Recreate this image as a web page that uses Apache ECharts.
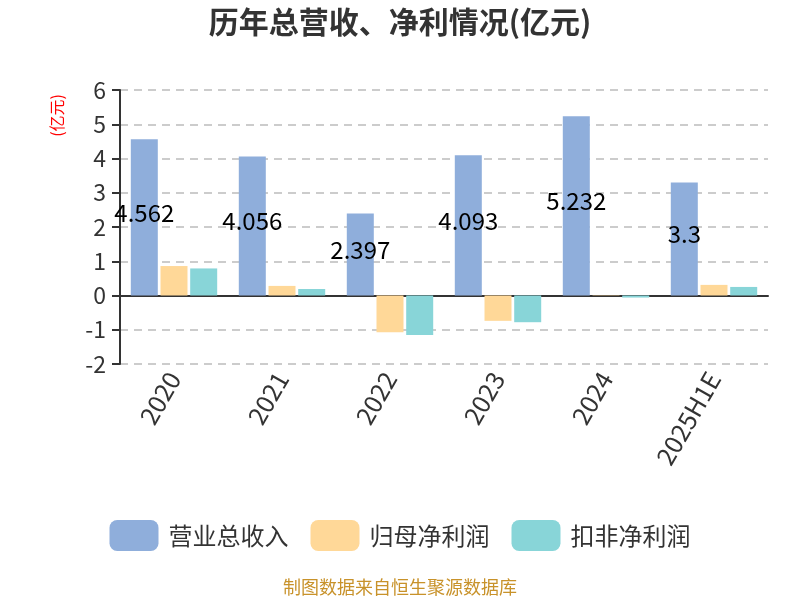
<!DOCTYPE html>
<html><head><meta charset="utf-8">
<script src="https://cdn.jsdelivr.net/npm/echarts@6/dist/echarts.min.js"></script>
<style>html,body{margin:0;padding:0;background:#fff}#c{width:800px;height:600px}</style>
</head><body><div id="c"></div>
<script>
var categories = ['2020','2021','2022','2023','2024','2025H1E'];
var revenue = [4.562, 4.056, 2.397, 4.093, 5.232, 3.3];
var netProfit = [0.86, 0.28, -1.07, -0.74, -0.01, 0.31];
var deductedProfit = [0.79, 0.19, -1.15, -0.78, -0.06, 0.25];
var seriesNames = ['营业总收入','归母净利润','扣非净利润'];
var yTicks = {min: -2, max: 6, interval: 1};

var chart = echarts.init(document.getElementById('c'));
var font = '"Noto Sans CJK SC", "Noto Sans", sans-serif';
chart.setOption({
  animation: false,
  textStyle: {fontFamily: font},
  title: {text: '历年总营收、净利情况(亿元)', left: 'center', top: 2,
    textStyle: {fontSize: 30, fontWeight: 'bold', color: '#333', fontFamily: font}},
  color: ['#8FAEDB', '#FFD898', '#88D5D8'],
  grid: {left: 120, right: 32, top: 90, bottom: 236},
  legend: {bottom: 44, left: 'center', itemWidth: 49, itemHeight: 31, itemGap: 22,
    itemStyle: {borderRadius: 6},
    textStyle: {fontSize: 24, color: '#333', fontFamily: font, padding: [0, 0, 0, 5]},
    data: seriesNames},
  xAxis: {type: 'category', data: categories,
    axisLine: {lineStyle: {color: '#333', width: 2}},
    axisTick: {length: 8, lineStyle: {width: 2}},
    axisLabel: {rotate: 60, fontSize: 25, color: '#333', margin: 10}},
  yAxis: {type: 'value', min: yTicks.min, max: yTicks.max, interval: yTicks.interval,
    axisLine: {show: true, lineStyle: {color: '#333', width: 2}},
    axisTick: {show: true, length: 8, lineStyle: {width: 2}},
    axisLabel: {fontSize: 23, color: '#333', margin: 14},
    splitLine: {lineStyle: {type: [8, 6], color: '#ccc', width: 2}}},
  graphic: [
    {type: 'text', left: 49, top: 94, rotation: Math.PI / 2,
     style: {text: '(亿元)', fill: '#ff0000', fontSize: 16, fontFamily: font}},
    {type: 'text', left: 'center', top: 578,
     style: {text: '制图数据来自恒生聚源数据库', fill: '#C8922A', fontSize: 18, fontFamily: font}}
  ],
  series: [
    {name: seriesNames[0], type: 'bar', data: revenue, barGap: '10%', barCategoryGap: '20%',
     label: {show: true, position: 'inside', offset: [0, -5], color: '#000', fontSize: 24, fontFamily: font}},
    {name: seriesNames[1], type: 'bar', data: netProfit, barGap: '10%', barCategoryGap: '20%'},
    {name: seriesNames[2], type: 'bar', data: deductedProfit, barGap: '10%', barCategoryGap: '20%'}
  ]
});
</script></body></html>
